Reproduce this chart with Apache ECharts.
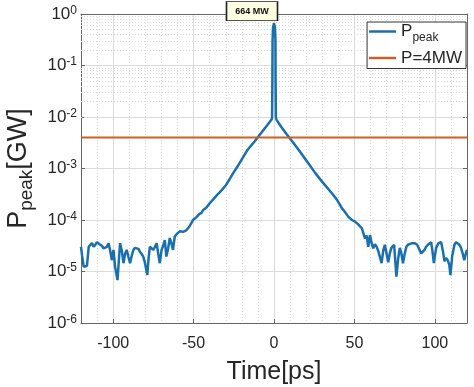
<!DOCTYPE html>
<html><head><meta charset="utf-8">
<script src="https://cdn.jsdelivr.net/npm/echarts@6/dist/echarts.min.js"></script>
<style>html,body{margin:0;padding:0;background:#fff}#c{width:474px;height:387px}</style>
</head><body><div id="c"></div>
<script>
// ---- data ----
const timePs = [
 -120,-119.3,-118.3,-117.3,-116.3,-115.2,-114.2,-113.2,-112.1,-111,-110.1,-108.5,-107,-106,-104.9,-103.9,-102.9,-101.8,-100.8,-99.8,
 -98.8,-97.3,-96.5,-95.7,-94.6,-93.6,-92.6,-91.6,-90.5,-89.5,-88.5,-87.4,-86.4,-85.4,-84.3,-83.3,-82.3,-81.3,-80.2,-78.8,
 -78,-77.2,-76.1,-75.1,-74,-73,-72,-71,-69.9,-68.9,-67.9,-66.9,-65.8,-64.8,-63.8,-62.8,-61.7,-60.7,-59.7,-58.6,
 -57.6,-56.6,-55.6,-54.5,-53.5,-52.5,-51.4,-50.4,-49.4,-48,-46.3,-45,-44.2,-42,-40.1,-37.5,-35,-32.5,-29.8,-27.5,
 -25,-22.5,-20,-16.5,-12,-8,-4,-1.5,-1.2,-1.0,-0.9,-0.6,0,0.6,0.9,1.0,1.2,1.5,4,8,
 12,15.4,20,25.7,30,36,39,42.2,44,46.3,48.5,50.4,52.5,54.6,56.6,57.6,58.6,59.7,60.7,61.7,
 62.7,63.8,64.8,65.8,66.9,67.9,68.9,70,71,72,73,74.7,75.4,76.1,77.2,78.2,79.2,80.2,81.3,82.3,
 83.3,84.4,85.9,87.4,89,90.5,91.5,92.6,93.6,94.6,95.7,96.7,97.7,98.5,99.4,100.8,102.3,103.9,105,106,
 107,108,109,109.7,110.8,112.2,113.2,114.2,115.2,116.3,117.3,118.3,119.3,120
];
const peakGW = [
 3.02e-5,2.0e-5,1.23e-5,1.17e-5,1.29e-5,3.02e-5,3.16e-5,3.55e-5,3.02e-5,3.31e-5,3.72e-5,3.39e-5,3.16e-5,2.82e-5,2.63e-5,3.02e-5,3.55e-5,2.51e-5,1.66e-5,2.63e-5,
 1.23e-5,6.8e-6,1.58e-5,3.55e-5,2.51e-5,1.45e-5,2.19e-5,2.63e-5,1.91e-5,1.45e-5,2.0e-5,2.63e-5,2.88e-5,3.02e-5,2.75e-5,2.40e-5,2.19e-5,1.95e-5,1.45e-5,8.5e-6,
 1.78e-5,3.02e-5,2.82e-5,2.63e-5,3.02e-5,3.55e-5,2.24e-5,1.45e-5,2.63e-5,3.16e-5,4.07e-5,1.95e-5,2.82e-5,4.47e-5,3.55e-5,2.63e-5,4.79e-5,5.25e-5,5.62e-5,6.03e-5,
 6.46e-5,5.89e-5,5.89e-5,6.31e-5,6.46e-5,7.59e-5,8.71e-5,1.0e-4,1.07e-4,1.15e-4,1.32e-4,1.38e-4,1.55e-4,1.74e-4,2.09e-4,2.57e-4,3.16e-4,3.80e-4,4.79e-4,6.31e-4,
 8.51e-4,1.12e-3,1.51e-3,2.29e-3,3.39e-3,4.90e-3,7.08e-3,8.91e-3,9.8e-3,0.05,0.3,0.55,0.664,0.55,0.3,0.05,9.8e-3,8.91e-3,6.76e-3,4.57e-3,
 3.16e-3,2.29e-3,1.45e-3,8.13e-4,5.50e-4,3.31e-4,2.51e-4,1.70e-4,1.45e-4,1.15e-4,1.0e-4,9.33e-5,8.13e-5,6.92e-5,4.37e-5,5.0e-5,3.02e-5,5.13e-5,3.55e-5,2.82e-5,
 3.39e-5,3.02e-5,2.51e-5,1.95e-5,1.45e-5,2.51e-5,3.31e-5,2.24e-5,1.51e-5,2.24e-5,2.88e-5,3.31e-5,1.58e-5,7.94e-6,1.78e-5,2.88e-5,2.24e-5,1.45e-5,2.24e-5,3.02e-5,
 3.31e-5,3.55e-5,3.55e-5,3.55e-5,3.31e-5,2.63e-5,2.24e-5,2.19e-5,2.63e-5,3.02e-5,3.31e-5,3.55e-5,3.72e-5,2.51e-5,1.45e-5,2.88e-5,3.55e-5,3.72e-5,2.51e-5,1.58e-5,
 1.82e-5,1.66e-5,1.35e-5,8.5e-6,2.0e-5,3.31e-5,3.72e-5,3.72e-5,3.31e-5,2.88e-5,2.24e-5,1.66e-5,2.24e-5,2.63e-5
];
const thresholdTime = [-120, 120];
const thresholdGW = [0.004, 0.004];
const xTickLabels = [-100, -50, 0, 50, 100];
const minorMantissas = [2, 3, 4, 5, 6, 7, 8, 9];
const minorDecades = [1e-6, 1e-5, 1e-4, 1e-3, 1e-2, 1e-1];
const peakPoint = [0, 0.664];
const peakText = '664 MW';

// ---- chart ----
const FONT = "'Liberation Sans', Arial, sans-serif";
const TXT = '#262626';
const minorY = [];
minorDecades.forEach(d => minorMantissas.forEach(m => minorY.push(+(m * d).toPrecision(3))));

const chart = echarts.init(document.getElementById('c'), null, {renderer: 'canvas'});
chart.setOption({
  animation: false,
  backgroundColor: '#fff',
  textStyle: {fontFamily: FONT},
  grid: {left: 81, right: 7, top: 14, bottom: 64, containLabel: false, outerBoundsMode: 'none'},
  legend: {
    orient: 'vertical', right: 8, top: 22,
    data: ['Ppeak', 'P=4MW'],
    icon: 'rect',
    itemWidth: 27, itemHeight: 2.5, itemGap: 6,
    padding: [1, 4, 2, 2],
    backgroundColor: '#fff', borderColor: '#333', borderWidth: 1,
    formatter: n => n === 'Ppeak' ? '{a|P}{b|peak}' : '{a|P=4MW}',
    textStyle: {
      color: TXT, fontFamily: FONT,
      rich: {
        a: {fontSize: 17, lineHeight: 22, color: TXT, fontFamily: FONT},
        b: {fontSize: 12, padding: [12, 0, 0, 0], color: TXT, fontFamily: FONT}
      }
    }
  },
  xAxis: [{
    type: 'value', min: -120, max: 120, interval: 10,
    name: 'Time[ps]', nameLocation: 'middle', nameGap: 37,
    nameTextStyle: {fontSize: 25, color: TXT, fontFamily: FONT},
    axisLine: {show: true, onZero: false, lineStyle: {color: '#666', width: 1}},
    axisTick: {show: true, inside: true, length: 4, customValues: xTickLabels, lineStyle: {color: '#666'}},
    axisLabel: {show: true, customValues: xTickLabels, margin: 13, fontSize: 16, color: TXT, fontFamily: FONT},
    splitLine: {show: true, lineStyle: {color: '#dcdcdc', width: 1}}
  }, {
    type: 'value', min: -120, max: 120, interval: 10, position: 'top',
    axisLine: {show: true, onZero: false, lineStyle: {color: '#666', width: 1}},
    axisTick: {show: false}, axisLabel: {show: false},
    splitLine: {show: true, lineStyle: {color: '#d8d8d8', width: 1, type: [1, 2]}}
  }],
  yAxis: [{
    type: 'log', logBase: 10, min: 1e-6, max: 1, interval: 1,
    name: '{a|P}{b|peak}{a|[GW]}', nameLocation: 'middle', nameGap: 34,
    nameTextStyle: {
      color: TXT, fontFamily: FONT,
      rich: {
        a: {fontSize: 27, color: TXT, fontFamily: FONT},
        b: {fontSize: 19, padding: [16, 0, 0, 0], color: TXT, fontFamily: FONT}
      }
    },
    axisLine: {show: true, onZero: false, lineStyle: {color: '#666', width: 1}},
    axisTick: {show: true, inside: true, length: 4, lineStyle: {color: '#666'}},
    axisLabel: {
      margin: 4, color: TXT, fontFamily: FONT,
      formatter: v => '{b|10}{s|' + Math.round(Math.log10(v)) + '}',
      rich: {
        b: {fontSize: 17, color: TXT, fontFamily: FONT},
        s: {fontSize: 12, padding: [0, 0, 7, 0], color: TXT, fontFamily: FONT}
      }
    },
    splitLine: {show: true, lineStyle: {color: '#dcdcdc', width: 1}}
  }, {
    type: 'log', logBase: 10, min: 1e-6, max: 1, interval: 1, position: 'right',
    axisLine: {show: true, onZero: false, lineStyle: {color: '#666', width: 1}},
    axisTick: {show: true, inside: true, length: 4, lineStyle: {color: '#666'}},
    axisLabel: {show: false}, splitLine: {show: false}
  }],
  series: [{
    name: 'Ppeak', type: 'line', xAxisIndex: 0, yAxisIndex: 0,
    data: timePs.map((t, i) => [t, peakGW[i]]),
    showSymbol: false, symbol: 'none', z: 3,
    lineStyle: {color: '#1a6fae', width: 2.5}, itemStyle: {color: '#1a6fae'},
    markPoint: {
      silent: true, z: 10,
      symbol: 'rect', symbolSize: [51, 19], symbolOffset: [-22, -12],
      itemStyle: {color: '#ffffe1', borderColor: '#222', borderWidth: 1},
      label: {show: true, formatter: peakText, color: '#111', fontSize: 9, fontWeight: 'bold', fontFamily: FONT},
      data: [{coord: peakPoint}]
    }
  }, {
    name: 'P=4MW', type: 'line', xAxisIndex: 0, yAxisIndex: 0,
    data: thresholdTime.map((t, i) => [t, thresholdGW[i]]),
    showSymbol: false, symbol: 'none', z: 4,
    lineStyle: {color: '#c4622d', width: 2}, itemStyle: {color: '#c4622d'},
    markLine: {
      silent: true, z: 1, symbol: ['none', 'none'], label: {show: false},
      lineStyle: {color: '#d8d8d8', width: 1, type: [1, 2]},
      emphasis: {disabled: true},
      data: minorY.map(v => ({yAxis: v}))
    }
  }]
});
</script></body></html>
